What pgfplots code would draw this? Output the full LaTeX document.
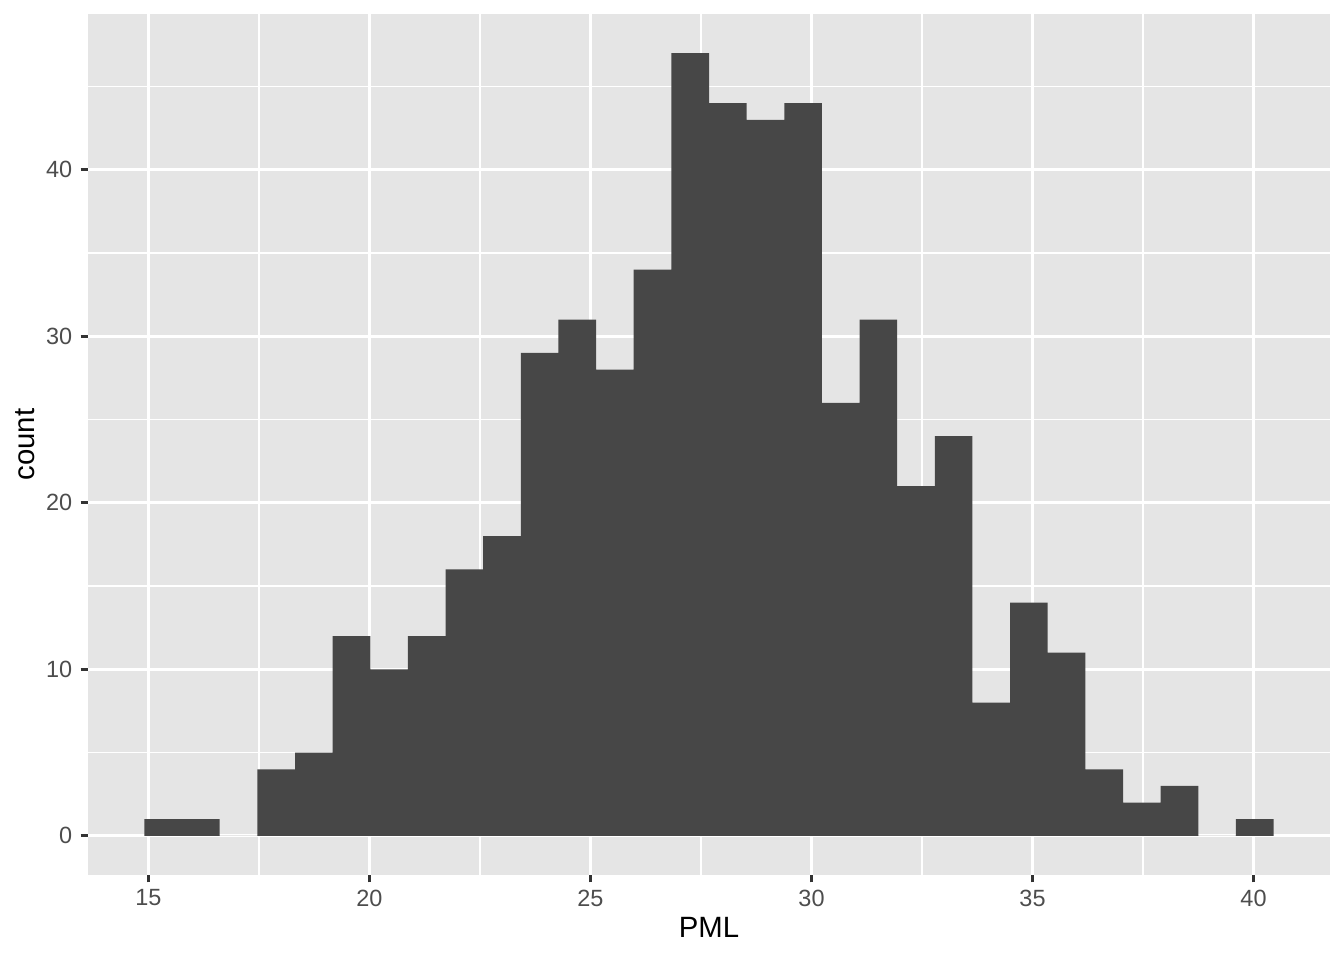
\documentclass[border=0pt]{standalone}
\usepackage{pgfplots}
\pgfplotsset{compat=1.18}
\usepackage{fontspec}
\setmainfont{Liberation Sans}
\definecolor{panelgray}{HTML}{E5E5E5}
\definecolor{barcol}{HTML}{474747}
\definecolor{tickcol}{HTML}{333333}
\definecolor{labcol}{HTML}{4D4D4D}
\begin{document}
\begin{tikzpicture}
\begin{axis}[
  at={(0,0)}, anchor=south west,
  scale only axis,
  width=465.75pt, height=322.875pt,
  xmin=13.632, xmax=41.730,
  ymin=-2.35, ymax=49.35,
  axis background/.style={fill=panelgray},
  axis line style={draw=none},
  xtick={15,20,25,30,35,40},
  ytick={0,10,20,30,40},
  minor xtick={17.5,22.5,27.5,32.5,37.5},
  minor ytick={5,15,25,35,45},
  tick align=outside,
  major tick length=2.75pt,
  minor tick length=0pt,
  tick style={color=tickcol, line width=1.07pt},
  xtick pos=bottom, ytick pos=left,
  grid=both,
  major grid style={white, line width=1.07pt},
  minor grid style={white, line width=0.53pt},
  /pgf/number format/assume math mode=true,
  ticklabel style={font=\fontsize{8.8}{10}\selectfont, text=labcol},
  xticklabel style={anchor=north, inner sep=0pt, yshift=-2.6pt},
  yticklabel style={anchor=east, inner sep=0pt, xshift=-3pt},
  xlabel={PML},
  ylabel={count},
  label style={font=\fontsize{11}{13}\selectfont, text=black},
  xlabel style={at={(axis description cs:0.5,-0.04878)}, anchor=north, inner sep=0pt},
  ylabel style={at={(axis description cs:-0.04273,0.5)}, anchor=base, rotate=0},
]
\addplot[ybar interval, fill=barcol, draw=none] table {
x y
14.909 1
15.760 1
16.612 0
17.463 4
18.315 5
19.166 12
20.018 10
20.869 12
21.721 16
22.572 18
23.424 29
24.275 31
25.127 28
25.978 34
26.830 47
27.681 44
28.533 43
29.384 44
30.235 26
31.087 31
31.938 21
32.790 24
33.641 8
34.493 14
35.344 11
36.196 4
37.047 2
37.899 3
38.750 0
39.602 1
40.453 1
};
\end{axis}
\pgfresetboundingbox
\path[use as bounding box] (-33pt,-31.875pt) rectangle (471pt,328.125pt);
\end{tikzpicture}
\end{document}
